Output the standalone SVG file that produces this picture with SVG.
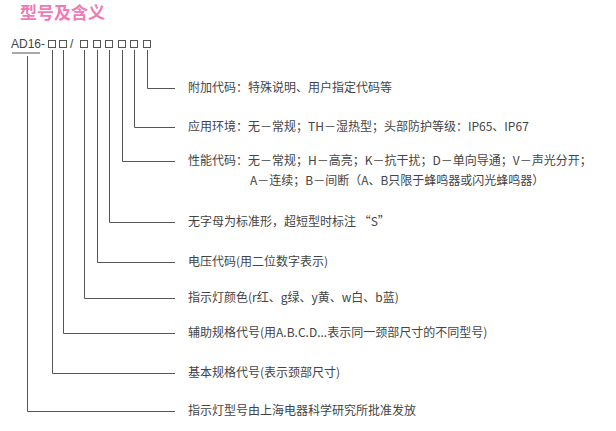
<svg xmlns="http://www.w3.org/2000/svg" width="616" height="431" viewBox="0 0 616 431">
<style>
text{font-family:"Noto Sans CJK SC","Liberation Sans",sans-serif;font-size:12px;fill:#444}
.t{font-size:17px;font-weight:bold;fill:#f07ab4}
.b{fill:#fff;stroke:#555;stroke-width:1}
#conn path{fill:none;stroke:#555;stroke-width:1}
</style>
<rect width="616" height="431" fill="#fff"/>
<text class="t" x="20" y="19">型号及含义</text>
<g id="code">
<text x="11" y="48" style="font-family:'Liberation Sans',sans-serif;font-size:12px">AD16-</text>
<line x1="12" y1="53" x2="40" y2="53" stroke="#555"/>
<rect class="b" x="48.5" y="40.5" width="7" height="7"/>
<rect class="b" x="59.5" y="40.5" width="7" height="7"/>
<text x="70" y="48" style="font-family:'Liberation Sans',sans-serif;font-size:12px">/</text>
<rect class="b" x="80.5" y="40.5" width="7" height="7"/>
<rect class="b" x="93.5" y="40.5" width="7" height="7"/>
<rect class="b" x="105.5" y="40.5" width="7" height="7"/>
<rect class="b" x="118.5" y="40.5" width="7" height="7"/>
<rect class="b" x="130.5" y="40.5" width="7" height="7"/>
<rect class="b" x="143.5" y="40.5" width="7" height="7"/>
</g>
<g id="conn">
<path d="M147.5 50V88.5H175"/>
<path d="M134.5 50V127.5H175"/>
<path d="M122.5 50V161.5H175"/>
<path d="M109.5 50V222.5H175"/>
<path d="M97.5 50V262.5H175"/>
<path d="M84.5 50V298.5H175"/>
<path d="M63.5 50V333.5H175"/>
<path d="M52.5 50V373.5H175"/>
<path d="M27.5 56V411.5H175"/>
</g>
<g id="n1"><text x="188" y="92">附加代码：特殊说明、用户指定代码等</text></g>
<g id="n2"><text x="188" y="131">应用环境：无－常规；TH－湿热型；头部防护等级：IP65、IP67</text></g>
<g id="n3"><text x="188" y="165">性能代码：无－常规；H－高亮；K－抗干扰；D－单向导通；V－声光分开；</text><text x="250" y="185">A－连续；B－间断（A、B只限于蜂鸣器或闪光蜂鸣器）</text></g>
<g id="n4"><text x="188" y="226">无字母为标准形，超短型时标注 “S”</text></g>
<g id="n5"><text x="188" y="266">电压代码(用二位数字表示)</text></g>
<g id="n6"><text x="188" y="302">指示灯颜色(r红、g绿、y黄、w白、b蓝)</text></g>
<g id="n7"><text x="188" y="337">辅助规格代号(用A.B.C.D...表示同一颈部尺寸的不同型号)</text></g>
<g id="n8"><text x="188" y="377">基本规格代号(表示颈部尺寸)</text></g>
<g id="n9"><text x="188" y="415">指示灯型号由上海电器科学研究所批准发放</text></g>
</svg>
